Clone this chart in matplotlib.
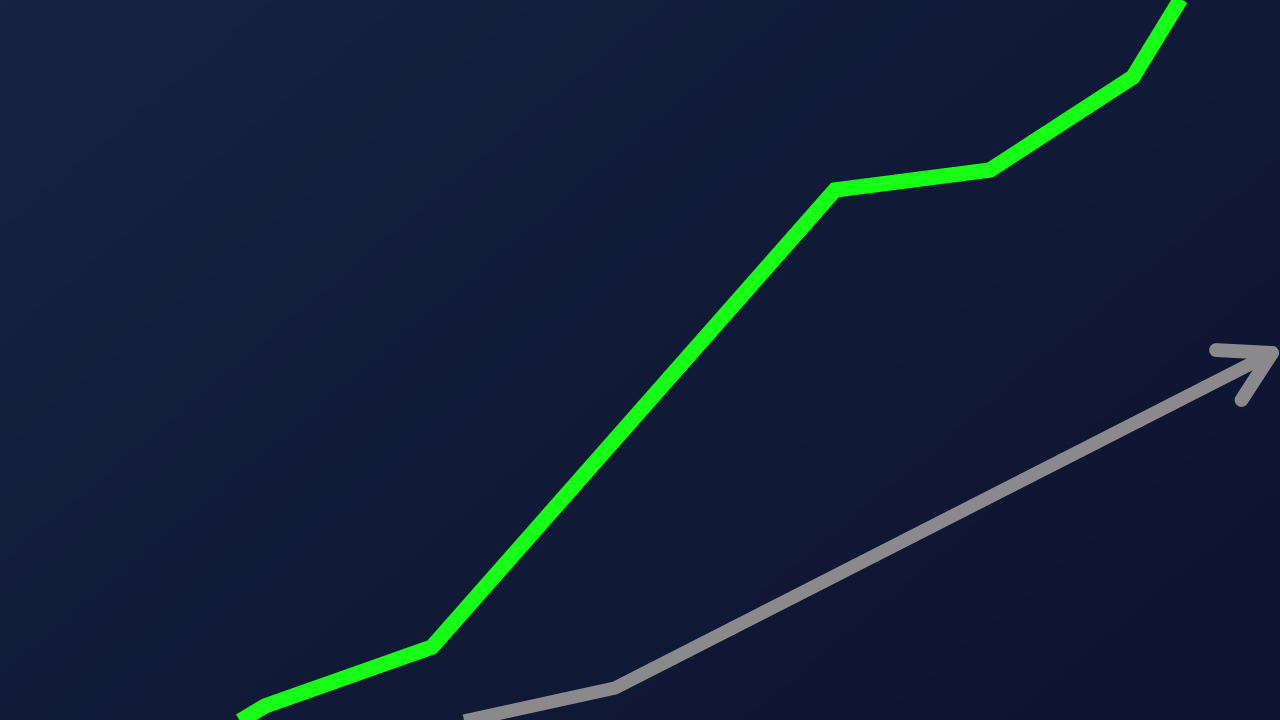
import numpy as np
from matplotlib import pyplot as plt
from matplotlib.colors import LinearSegmentedColormap

# green line vertices (x, y measured upwards from bottom edge, pixel-like units)
green_x = [230, 265, 432, 835, 990, 1133, 1185]
green_y = [-7, 14, 73, 530, 550, 643, 728]

# gray trend arrow vertices
gray_x = [455, 615, 1272]
gray_y = [-3, 32, 367]

W, H = 1280, 720

fig = plt.figure(figsize=(12.8, 7.2), dpi=100)
ax = fig.add_axes([0, 0, 1, 1])
ax.set_xlim(0, W)
ax.set_ylim(0, H)
ax.axis('off')

# diagonal dark navy gradient
bg = LinearSegmentedColormap.from_list('bg', ['#172341', '#111b38', '#0d1330'])
xx, yy = np.meshgrid(np.linspace(0, 1, 256), np.linspace(0, 1, 144))
grad = (xx * 0.6 + yy * 0.4)
ax.imshow(grad, cmap=bg, extent=[0, W, 0, H], origin='upper', aspect='auto', zorder=0)

ax.plot(green_x, green_y, color='#17ff17', lw=11, solid_joinstyle='miter', solid_capstyle='butt', zorder=3)
ax.plot(gray_x, gray_y, color='#8a8a8c', lw=9.5, solid_joinstyle='miter', solid_capstyle='butt', zorder=2)

# arrowhead on the gray line
tip = np.array([gray_x[-1], gray_y[-1]], dtype=float)
prev = np.array([gray_x[-2], gray_y[-2]], dtype=float)
ang = np.arctan2(*(tip - prev)[::-1])
head_len, half = 56, np.deg2rad(30)
for s in (-1, 1):
    a = ang + np.pi + s * half
    end = tip + head_len * np.array([np.cos(a), np.sin(a)])
    ax.plot([tip[0], end[0]], [tip[1], end[1]], color='#8a8a8c', lw=10, solid_capstyle='round', zorder=2)

fig.savefig('out.png', dpi=100)
